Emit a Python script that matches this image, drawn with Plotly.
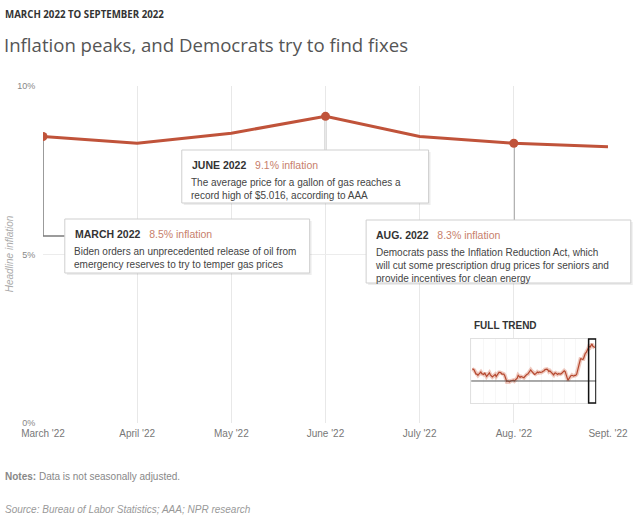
import plotly.graph_objects as go
import pandas as pd

# ---------------- data ----------------
months = ["March '22", "April '22", "May '22", "June '22", "July '22", "Aug. '22", "Sept. '22"]
inflation = [8.5, 8.3, 8.6, 9.1, 8.5, 8.3, 8.2]
callout_idx = [0, 3, 5]

yticks = [0, 5, 10]
ytick_labels = ["0%", "5%", "10%"]

# full-trend inset: monthly headline CPI, Jan 2012 - Sept 2022
trend_start = "2012-01-01"
trend_values = [
    2.9, 2.9, 2.7, 2.3, 1.7, 1.7, 1.4, 1.7, 2.0, 2.2, 1.8, 1.7,
    1.6, 2.0, 1.5, 1.1, 1.4, 1.8, 2.0, 1.5, 1.2, 1.0, 1.2, 1.5,
    1.6, 1.1, 1.5, 2.0, 2.1, 2.1, 2.0, 1.7, 1.7, 1.7, 1.3, 0.8,
    -0.1, 0.0, -0.1, -0.2, 0.0, 0.1, 0.2, 0.2, 0.0, 0.2, 0.5, 0.7,
    1.4, 1.0, 0.9, 1.1, 1.0, 1.0, 0.8, 1.1, 1.5, 1.6, 1.7, 2.1,
    2.5, 2.7, 2.4, 2.2, 1.9, 1.6, 1.7, 1.9, 2.2, 2.0, 2.2, 2.1,
    2.1, 2.2, 2.4, 2.5, 2.8, 2.9, 2.9, 2.7, 2.3, 2.5, 2.2, 1.9,
    1.6, 1.5, 1.9, 2.0, 1.8, 1.6, 1.8, 1.7, 1.7, 1.8, 2.1, 2.3,
    2.5, 2.3, 1.5, 0.3, 0.1, 0.6, 1.0, 1.3, 1.4, 1.2, 1.2, 1.4,
    1.4, 1.7, 2.6, 4.2, 5.0, 5.4, 5.4, 5.3, 5.4, 6.2, 6.8, 7.0,
    7.5, 7.9, 8.5, 8.3, 8.6, 9.1, 8.5, 8.3, 8.2,
]
shade_periods = [("2011-12-01", "2017-01-20"), ("2021-01-20", "2022-11-01")]
window = ("2022-02-15", "2022-10-05")

callouts = [
    {"head": "MARCH 2022", "rate": "8.5% inflation",
     "body": "Biden orders an unprecedented release of oil from<br>emergency reserves to try to temper gas prices"},
    {"head": "JUNE 2022", "rate": "9.1% inflation",
     "body": "The average price for a gallon of gas reaches a<br>record high of $5.016, according to AAA"},
    {"head": "AUG. 2022", "rate": "8.3% inflation",
     "body": "Democrats pass the Inflation Reduction Act, which<br>will cut some prescription drug prices for seniors and<br>provide incentives for clean energy"},
]

# ---------------- layout helpers ----------------
W, H = 640, 519
L, R, T, B = 43, 613, 86, 423


def px(x):
    return (x - L) / (R - L)


def py(y):
    return (B - y) / (B - T)


def yval(y):
    return (B - y) / (B - T) * 10


trend_dates = pd.date_range(trend_start, periods=len(trend_values), freq="MS")

RED = "#c0533a"
FONT = "Liberation Sans, Arial, sans-serif"

fig = go.Figure()

# inset trend
fig.add_trace(go.Scatter(x=trend_dates, y=trend_values, xaxis="x2", yaxis="y2", mode="lines",
                         line=dict(color="rgba(214,120,95,0.4)", width=4), hoverinfo="skip",
                         showlegend=False))
fig.add_trace(go.Scatter(x=trend_dates, y=trend_values, xaxis="x2", yaxis="y2", mode="lines",
                         line=dict(color="#b5482f", width=1.2), showlegend=False))

# main line
fig.add_trace(go.Scatter(x=list(range(len(months))), y=inflation, mode="lines",
                         line=dict(color=RED, width=3), showlegend=False))
fig.add_trace(go.Scatter(x=callout_idx, y=[inflation[i] for i in callout_idx], mode="markers",
                         marker=dict(color=RED, size=9), showlegend=False))

shapes = []
annotations = []

# connectors
conn = "#7a7a7a"
shapes.append(dict(type="line", xref="x", yref="y", x0=callout_idx[0], x1=callout_idx[0],
                   y0=inflation[callout_idx[0]], y1=yval(236), line=dict(color=conn, width=1.5),
                   layer="below"))
shapes.append(dict(type="line", xref="paper", yref="paper", x0=px(L), x1=px(65),
                   y0=py(236), y1=py(236), line=dict(color=conn, width=1.5)))
shapes.append(dict(type="line", xref="x", yref="y", x0=callout_idx[1], x1=callout_idx[1],
                   y0=inflation[callout_idx[1]], y1=yval(150), line=dict(color=conn, width=1.5),
                   layer="below"))
shapes.append(dict(type="line", xref="x", yref="y", x0=callout_idx[2], x1=callout_idx[2],
                   y0=inflation[callout_idx[2]], y1=yval(220), line=dict(color=conn, width=1.5),
                   layer="below"))

# callout boxes: (left, top, right, bottom)
boxes = [(65, 219, 312, 273), (183, 150, 432, 203), (369, 220, 636, 283)]
for (x0, y0, x1, y1), c in zip(boxes, callouts):
    shapes.append(dict(type="rect", xref="paper", yref="paper", x0=px(x0 + 2), x1=px(x1 + 2),
                       y0=py(y0 + 2), y1=py(y1 + 2), line=dict(width=0),
                       fillcolor="rgba(0,0,0,0.07)"))
    shapes.append(dict(type="rect", xref="paper", yref="paper", x0=px(x0), x1=px(x1),
                       y0=py(y0), y1=py(y1), line=dict(color="#cfcfcf", width=1),
                       fillcolor="white"))
    annotations.append(dict(xref="paper", yref="paper", x=px(x0 + 8), y=py(y0 + 15),
                            xanchor="left", yanchor="middle", showarrow=False, align="left",
                            text=f"<b>{c['head']}</b>   <span style='color:#c8806c'>{c['rate']}</span>",
                            font=dict(family=FONT, size=10.5, color="#333")))
    annotations.append(dict(xref="paper", yref="paper", x=px(x0 + 7), y=py(y0 + 25),
                            xanchor="left", yanchor="top", showarrow=False, align="left",
                            text=c["body"],
                            font=dict(family=FONT, size=10, color="#444")))

# inset shading and window
for a, b in shade_periods:
    shapes.append(dict(type="rect", xref="x2", yref="y2 domain", x0=a, x1=b, y0=0, y1=1,
                       fillcolor="#eaeaea", line=dict(width=0), layer="below"))
shapes.append(dict(type="line", xref="x2 domain", yref="y2", x0=0, x1=1, y0=0, y1=0,
                   line=dict(color="#555", width=1)))
shapes.append(dict(type="rect", xref="x2", yref="y2 domain", x0=window[0], x1=window[1],
                   y0=0, y1=1, line=dict(color="#111", width=1.5)))

annotations.append(dict(xref="paper", yref="paper", x=px(476), y=py(325), xanchor="left",
                        yanchor="middle", showarrow=False, text="<b>FULL TREND</b>",
                        font=dict(family=FONT, size=10, color="#333")))

# y-axis title
annotations.append(dict(xref="paper", yref="paper", x=px(9), y=py(254), xanchor="center",
                        yanchor="middle", showarrow=False, textangle=-90,
                        text="<i>Headline inflation</i>",
                        font=dict(family=FONT, size=10, color="#aaa")))

# titles and notes
annotations += [
    dict(xref="paper", yref="paper", x=px(3), y=py(15), xanchor="left", yanchor="middle",
         showarrow=False, text="<b>MARCH 2022 TO SEPTEMBER 2022</b>",
         font=dict(family="Open Sans, sans-serif", size=9.7, color="#333")),
    dict(xref="paper", yref="paper", x=px(2), y=py(45), xanchor="left", yanchor="middle",
         showarrow=False, text="Inflation peaks, and Democrats try to find fixes",
         font=dict(family="Open Sans, sans-serif", size=18.6, color="#555")),
    dict(xref="paper", yref="paper", x=px(3), y=py(476), xanchor="left", yanchor="middle",
         showarrow=False, text="<b>Notes:</b> Data is not seasonally adjusted.",
         font=dict(family=FONT, size=10, color="#888")),
    dict(xref="paper", yref="paper", x=px(3), y=py(509), xanchor="left", yanchor="middle",
         showarrow=False, text="<i>Source: Bureau of Labor Statistics; AAA; NPR research</i>",
         font=dict(family=FONT, size=10, color="#999")),
]

fig.update_layout(
    width=W, height=H,
    margin=dict(l=L, r=W - R, t=T, b=H - B),
    paper_bgcolor="white", plot_bgcolor="white",
    showlegend=False,
    xaxis=dict(range=[0, len(months) - 1], tickvals=list(range(len(months))), ticktext=months,
               showgrid=True, gridcolor="#e8e8e8", gridwidth=1, zeroline=False, showline=False,
               ticklabelstandoff=3,
               tickfont=dict(family=FONT, size=10, color="#777"), fixedrange=True),
    yaxis=dict(range=[0, 10], tickvals=yticks, ticktext=ytick_labels, showgrid=True,
               gridcolor="#ececec", zeroline=False, showline=False,
               ticks="outside", ticklen=5, tickcolor="rgba(0,0,0,0)",
               tickfont=dict(family=FONT, size=9, color="#888"), fixedrange=True),
    xaxis2=dict(domain=[px(475), px(601)], anchor="y2", type="date",
                range=["2011-12-01", "2022-10-10"], showgrid=True, dtick="M12",
                gridcolor="#f7f7f7", showticklabels=False, zeroline=False,
                showline=True, mirror=True, linecolor="#e0e0e0", ticks=""),
    yaxis2=dict(domain=[py(403), py(339)], anchor="x2", range=[-5.4, 10.3],
                showgrid=False, showticklabels=False, zeroline=False,
                showline=True, mirror=True, linecolor="#e0e0e0", ticks=""),
    shapes=shapes,
    annotations=annotations,
)

fig.write_html("out.html")
